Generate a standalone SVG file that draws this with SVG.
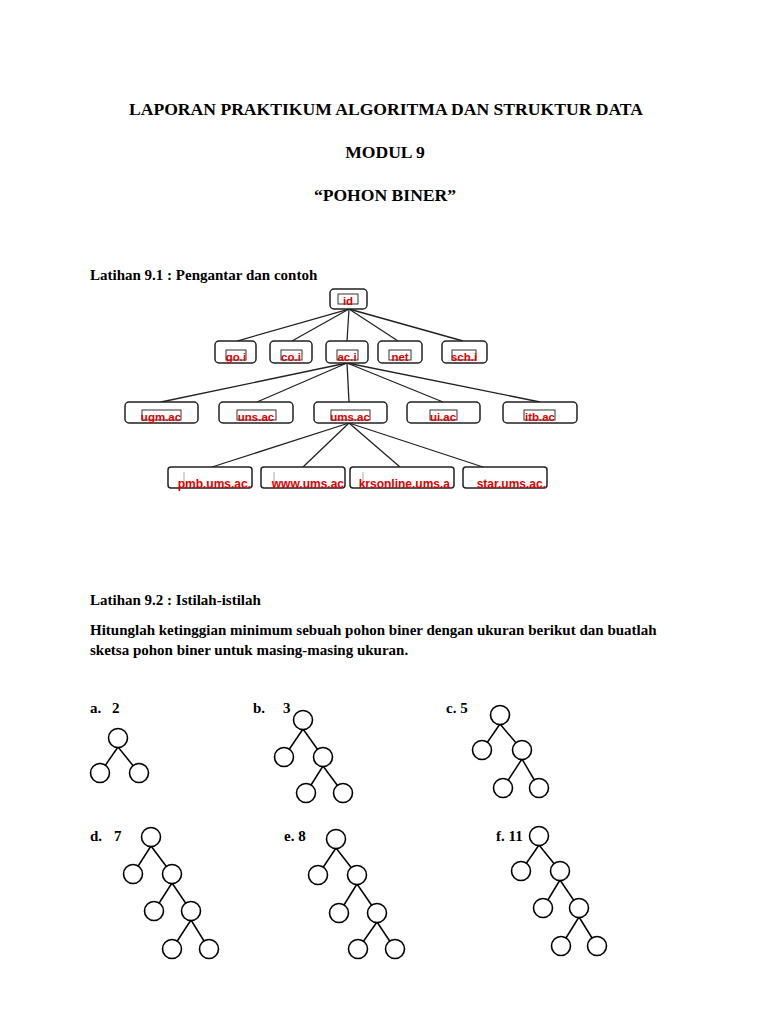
<svg xmlns="http://www.w3.org/2000/svg" width="768" height="1024" viewBox="0 0 768 1024">
<style>
.title{font-family:"Liberation Serif",serif;font-weight:bold;font-size:17.6px;fill:#000;text-anchor:middle}
.h{font-family:"Liberation Serif",serif;font-weight:bold;font-size:15px;fill:#000}
.box{fill:#fff;stroke:#222;stroke-width:1.5}
.inner{fill:#fff;stroke:#333;stroke-width:1}
.lbl{font-family:"Liberation Sans",sans-serif;font-weight:bold;font-size:11.5px;fill:#e00000;text-anchor:middle}
.lbl4{font-family:"Liberation Sans",sans-serif;font-weight:bold;font-size:12px;fill:#e00000;text-anchor:end}
.edge{stroke:#222;stroke-width:1.3;fill:none}
.tedge{stroke:#000;stroke-width:1.5;fill:none}
.c{fill:#fff;stroke:#000;stroke-width:1.6}
</style>
<rect width="768" height="1024" fill="#fff"/>
<g id="titles">
<text class="title" x="386" y="115">LAPORAN PRAKTIKUM ALGORITMA DAN STRUKTUR DATA</text>
<text class="title" x="385" y="158">MODUL 9</text>
<text class="title" x="385" y="201">“POHON BINER”</text>
<text class="h" x="90" y="280">Latihan 9.1 : Pengantar dan contoh</text>
<text class="h" x="90" y="605">Latihan 9.2 :  Istilah-istilah</text>
<text class="h" x="90" y="635">Hitunglah ketinggian minimum sebuah pohon biner dengan ukuran berikut dan buatlah</text>
<text class="h" x="90" y="655">sketsa pohon biner untuk masing-masing ukuran.</text>
</g>
<g id="connectors">
<line class="edge" x1="349" y1="309" x2="237" y2="341"/>
<line class="edge" x1="349" y1="309" x2="292" y2="341"/>
<line class="edge" x1="349" y1="309" x2="347" y2="341"/>
<line class="edge" x1="349" y1="309" x2="398" y2="341"/>
<line class="edge" x1="349" y1="309" x2="463" y2="341"/>
<line class="edge" x1="347" y1="363" x2="161" y2="402"/>
<line class="edge" x1="347" y1="363" x2="257" y2="402"/>
<line class="edge" x1="347" y1="363" x2="349" y2="402"/>
<line class="edge" x1="347" y1="363" x2="443" y2="402"/>
<line class="edge" x1="347" y1="363" x2="540" y2="402"/>
<line class="edge" x1="349" y1="423" x2="212" y2="467"/>
<line class="edge" x1="349" y1="423" x2="303" y2="467"/>
<line class="edge" x1="349" y1="423" x2="400" y2="467"/>
<line class="edge" x1="349" y1="423" x2="483" y2="467"/>
</g>
<g id="n-id"><rect class="box" x="330" y="289" width="37" height="20" rx="4"/><rect class="inner" x="338" y="294" width="20" height="10"/><text class="lbl" x="348" y="305">id</text></g>
<g id="n-go"><rect class="box" x="215" y="341" width="41" height="22" rx="4"/><rect class="inner" x="226" y="350" width="20" height="10"/><text class="lbl" x="236" y="361">go.i</text></g>
<g id="n-co"><rect class="box" x="270" y="341" width="42" height="22" rx="4"/><rect class="inner" x="281" y="350" width="21" height="10"/><text class="lbl" x="291" y="361">co.i</text></g>
<g id="n-ac"><rect class="box" x="326" y="341" width="42" height="22" rx="4"/><rect class="inner" x="337" y="350" width="21" height="10"/><text class="lbl" x="347" y="361">ac.i</text></g>
<g id="n-net"><rect class="box" x="378" y="341" width="44" height="22" rx="4"/><rect class="inner" x="389" y="350" width="22" height="10"/><text class="lbl" x="400" y="361">net</text></g>
<g id="n-sch"><rect class="box" x="442" y="341" width="45" height="22" rx="4"/><rect class="inner" x="452" y="350" width="24" height="10"/><text class="lbl" x="464" y="361">sch.i</text></g>
<g id="n-ugm"><rect class="box" x="125" y="402" width="73" height="21" rx="4"/><rect class="inner" x="142" y="410" width="39" height="10"/><text class="lbl" x="161" y="421">ugm.ac</text></g>
<g id="n-uns"><rect class="box" x="219" y="402" width="74" height="21" rx="4"/><rect class="inner" x="237" y="410" width="39" height="10"/><text class="lbl" x="256" y="421">uns.ac</text></g>
<g id="n-ums"><rect class="box" x="314" y="402" width="73" height="21" rx="4"/><rect class="inner" x="331" y="410" width="39" height="10"/><text class="lbl" x="350" y="421">ums.ac</text></g>
<g id="n-ui"><rect class="box" x="407" y="402" width="73" height="21" rx="4"/><rect class="inner" x="430" y="410" width="27" height="10"/><text class="lbl" x="443" y="421">ui.ac</text></g>
<g id="n-itb"><rect class="box" x="503" y="402" width="74" height="21" rx="4"/><rect class="inner" x="524" y="410" width="31" height="10"/><text class="lbl" x="540" y="421">itb.ac</text></g>
<g id="n-pmb"><rect class="box" x="168" y="467" width="84" height="21" rx="3"/><line x1="184" y1="472" x2="184" y2="487" stroke="#aaa" stroke-width="1"/><text class="lbl4" x="251" y="488">pmb.ums.ac.</text></g>
<g id="n-www"><rect class="box" x="261" y="467" width="84" height="21" rx="3"/><line x1="274" y1="472" x2="274" y2="487" stroke="#aaa" stroke-width="1"/><text class="lbl4" x="344" y="488">www.ums.ac</text></g>
<g id="n-krs"><rect class="box" x="350" y="467" width="104" height="21" rx="3"/><line x1="363" y1="472" x2="363" y2="487" stroke="#aaa" stroke-width="1"/><text class="lbl4" x="450" y="488">krsonline.ums.a</text></g>
<g id="n-star"><rect class="box" x="463" y="467" width="84" height="21" rx="3"/><text class="lbl4" x="546" y="488">star.ums.ac.</text></g>

<g id="tree-a">
<text class="h" x="90" y="713">a.<tspan x="112">2</tspan></text>
<line class="tedge" x1="118" y1="747" x2="100" y2="773"/><line class="tedge" x1="118" y1="747" x2="139" y2="773"/>
<circle class="c" cx="118" cy="738" r="9.5"/><circle class="c" cx="100" cy="773" r="9.5"/><circle class="c" cx="139" cy="773" r="9.5"/>
</g>
<g id="tree-b">
<text class="h" x="253" y="713">b.<tspan x="283">3</tspan></text>
<line class="tedge" x1="303" y1="729" x2="284" y2="757"/><line class="tedge" x1="303" y1="729" x2="323" y2="757"/>
<line class="tedge" x1="323" y1="766" x2="306" y2="793"/><line class="tedge" x1="323" y1="766" x2="343" y2="793"/>
<circle class="c" cx="303" cy="720" r="9.5"/><circle class="c" cx="284" cy="757" r="9.5"/><circle class="c" cx="323" cy="757" r="9.5"/><circle class="c" cx="306" cy="793" r="9.5"/><circle class="c" cx="343" cy="793" r="9.5"/>
</g>
<g id="tree-c">
<text class="h" x="446" y="713">c. 5</text>
<line class="tedge" x1="500" y1="724" x2="482" y2="750"/><line class="tedge" x1="500" y1="724" x2="522" y2="750"/>
<line class="tedge" x1="522" y1="759" x2="503" y2="788"/><line class="tedge" x1="522" y1="759" x2="539" y2="788"/>
<circle class="c" cx="500" cy="715" r="9.5"/><circle class="c" cx="482" cy="750" r="9.5"/><circle class="c" cx="522" cy="750" r="9.5"/><circle class="c" cx="503" cy="788" r="9.5"/><circle class="c" cx="539" cy="788" r="9.5"/>
</g>
<g id="tree-d">
<text class="h" x="90" y="841">d.<tspan x="114">7</tspan></text>
<line class="tedge" x1="151" y1="846" x2="133" y2="874"/><line class="tedge" x1="151" y1="846" x2="172" y2="874"/>
<line class="tedge" x1="172" y1="883" x2="154" y2="911"/><line class="tedge" x1="172" y1="883" x2="191" y2="911"/>
<line class="tedge" x1="191" y1="920" x2="172" y2="949"/><line class="tedge" x1="191" y1="920" x2="209" y2="949"/>
<circle class="c" cx="151" cy="837" r="9.5"/><circle class="c" cx="133" cy="874" r="9.5"/><circle class="c" cx="172" cy="874" r="9.5"/><circle class="c" cx="154" cy="911" r="9.5"/><circle class="c" cx="191" cy="911" r="9.5"/><circle class="c" cx="172" cy="949" r="9.5"/><circle class="c" cx="209" cy="949" r="9.5"/>
</g>
<g id="tree-e">
<text class="h" x="284" y="841">e. 8</text>
<line class="tedge" x1="336" y1="848" x2="318" y2="875"/><line class="tedge" x1="336" y1="848" x2="357" y2="875"/>
<line class="tedge" x1="357" y1="884" x2="339" y2="913"/><line class="tedge" x1="357" y1="884" x2="377" y2="913"/>
<line class="tedge" x1="377" y1="922" x2="358" y2="949"/><line class="tedge" x1="377" y1="922" x2="395" y2="949"/>
<circle class="c" cx="336" cy="839" r="9.5"/><circle class="c" cx="318" cy="875" r="9.5"/><circle class="c" cx="357" cy="875" r="9.5"/><circle class="c" cx="339" cy="913" r="9.5"/><circle class="c" cx="377" cy="913" r="9.5"/><circle class="c" cx="358" cy="949" r="9.5"/><circle class="c" cx="395" cy="949" r="9.5"/>
</g>
<g id="tree-f">
<text class="h" x="496" y="841">f. 11</text>
<line class="tedge" x1="539" y1="845" x2="521" y2="871"/><line class="tedge" x1="539" y1="845" x2="560" y2="871"/>
<line class="tedge" x1="560" y1="880" x2="543" y2="908"/><line class="tedge" x1="560" y1="880" x2="579" y2="908"/>
<line class="tedge" x1="579" y1="917" x2="561" y2="946"/><line class="tedge" x1="579" y1="917" x2="597" y2="946"/>
<circle class="c" cx="539" cy="836" r="9.5"/><circle class="c" cx="521" cy="871" r="9.5"/><circle class="c" cx="560" cy="871" r="9.5"/><circle class="c" cx="543" cy="908" r="9.5"/><circle class="c" cx="579" cy="908" r="9.5"/><circle class="c" cx="561" cy="946" r="9.5"/><circle class="c" cx="597" cy="946" r="9.5"/>
</g>
</svg>
